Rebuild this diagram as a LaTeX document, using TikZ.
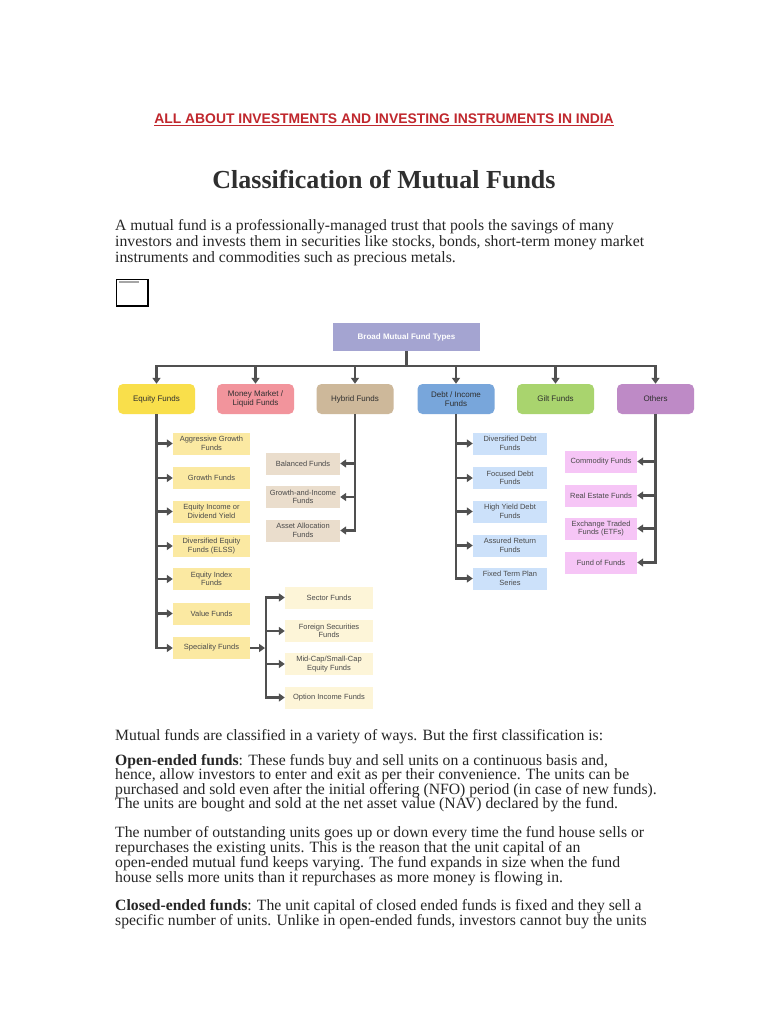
\documentclass[tikz,border=0pt]{standalone}
\usepackage{fontspec}
\setmainfont{Liberation Serif}
\setsansfont{Liberation Sans}
\usetikzlibrary{arrows.meta}
\definecolor{hdr}{HTML}{C0272D}
\definecolor{ttl}{HTML}{2F2F2F}
\definecolor{bodyc}{HTML}{262626}
\definecolor{lnc}{HTML}{505050}
\definecolor{topc}{HTML}{A4A4D1}
\definecolor{eqC}{HTML}{F9DF4B}
\definecolor{mmC}{HTML}{F2949C}
\definecolor{hyC}{HTML}{CDB89A}
\definecolor{deC}{HTML}{78A6DB}
\definecolor{giC}{HTML}{A9D46E}
\definecolor{otC}{HTML}{BE8AC6}
\definecolor{eqS}{HTML}{FBE9A2}
\definecolor{hyS}{HTML}{EADDCC}
\definecolor{spS}{HTML}{FDF5D8}
\definecolor{deS}{HTML}{CCE1FA}
\definecolor{otS}{HTML}{F6C5F6}
\definecolor{boxtxt}{HTML}{4A4A4A}
\tikzset{
  body/.style={anchor=base west, inner sep=0pt, text=bodyc, font=\fontsize{15.7}{17}\selectfont},
  cat/.style={rounded corners=5pt, minimum width=77pt, minimum height=30pt, inner sep=1pt,
    align=center, text=ttl, font=\sffamily\fontsize{8}{9.5}\selectfont},
  subbox/.style={minimum height=22pt, inner sep=1pt, align=center, text=boxtxt,
    font=\sffamily\fontsize{7.5}{8.5}\selectfont},
  plain/.style={draw=lnc, line width=2.6pt},
  conn/.style={draw=lnc, line width=2.6pt, -{Triangle[length=6pt,width=8pt]}},
}
\begin{document}
\begin{tikzpicture}[x=1pt,y=-1pt]
\useasboundingbox[fill=white] (0,0) rectangle (768,1024);

% header
\node[text=hdr, font=\sffamily\bfseries\fontsize{13.9}{15}\selectfont, inner sep=0pt] (hd) at (384,119) {ALL ABOUT INVESTMENTS AND INVESTING INSTRUMENTS IN INDIA};
\draw[hdr, line width=1.1pt] ([yshift=-1.8pt]hd.south west) -- ([yshift=-1.8pt]hd.south east);

% title
\node[text=ttl, font=\bfseries\fontsize{26}{30}\selectfont, inner sep=0pt] (title) at (384,180) {Classification of Mutual Funds};

% intro
\node[body] (i1) at (115,231) {A mutual fund is a professionally-managed trust that pools the savings of many};
\node[body] (i2) at (115,246.5) {investors and invests them in securities like stocks, bonds, short-term money market};
\node[body] (i3) at (115,262) {instruments and commodities such as precious metals.};

% placeholder image
\draw[black, line width=0.8pt] (116,279) rectangle (148,306);
\draw[black, line width=1.6pt] (116.5,306) -- (148,306) -- (148,279.5);
\draw[gray!70, line width=1.2pt] (119,282) -- (139,282);

% diagram
\node[fill=topc, minimum width=147pt, minimum height=28pt, inner sep=1pt, text=white,
  font=\sffamily\bfseries\fontsize{8}{9}\selectfont] (top) at (406.5,337) {Broad Mutual Fund Types};

\node[cat, fill=eqC] (eq) at (156.5,399) {Equity Funds};
\node[cat, fill=mmC] (mm) at (255.5,399) {Money Market /\\Liquid Funds};
\node[cat, fill=hyC] (hy) at (355,399) {Hybrid Funds};
\node[cat, fill=deC] (de) at (456,399) {Debt / Income\\Funds};
\node[cat, fill=giC] (gi) at (555.5,399) {Gilt Funds};
\node[cat, fill=otC] (ot) at (655.5,399) {Others};

\coordinate (bar) at (406.5,366);
\draw[plain] (top.south) -- (bar);
\draw[plain, line cap=rect] (bar -| eq.north) -- (bar -| ot.north);
\foreach \n in {eq,mm,hy,de,gi,ot}{
  \draw[conn] (bar -| \n.north) -- (\n.north);
}

% equity subs
\begin{scope}[every node/.style={subbox, fill=eqS, minimum width=77pt}]
\node (ag) at (211.5,443.5) {Aggressive Growth\\Funds};
\node (gr) at (211.5,478) {Growth Funds};
\node (ei) at (211.5,511.5) {Equity Income or\\Dividend Yield};
\node (dv) at (211.5,546) {Diversified Equity\\Funds (ELSS)};
\node (ix) at (211.5,579) {Equity Index\\Funds};
\node (va) at (211.5,613.5) {Value Funds};
\node (sp) at (211.5,648) {Speciality Funds};
\end{scope}
\foreach \n in {ag,gr,ei,dv,ix,va,sp}{
  \draw[conn] (eq.south) |- (\n.west);
}

% hybrid subs
\begin{scope}[every node/.style={subbox, fill=hyS, minimum width=74pt}]
\node (bal) at (303,463.5) {Balanced Funds};
\node (gai) at (303,497) {Growth-and-Income\\Funds};
\node (aa) at (303,530.5) {Asset Allocation\\Funds};
\end{scope}
\foreach \n in {bal,gai,aa}{
  \draw[conn] (hy.south) |- (\n.east);
}

% speciality subs
\begin{scope}[every node/.style={subbox, fill=spS, minimum width=88pt}]
\node (sec) at (329,597.5) {Sector Funds};
\node (fs) at (329,631) {Foreign Securities\\Funds};
\node (mc) at (329,664) {Mid-Cap/Small-Cap\\Equity Funds};
\node (oi) at (329,697.5) {Option Income Funds};
\end{scope}
\coordinate (spj) at (266,648);
\draw[conn] (sp.east) -- ([xshift=-1pt]spj);
\foreach \n in {sec,fs,mc,oi}{
  \draw[conn] (spj) |- (\n.west);
}

% debt subs
\begin{scope}[every node/.style={subbox, fill=deS, minimum width=74pt}]
\node (dd) at (510,443.5) {Diversified Debt\\Funds};
\node (fd) at (510,478) {Focused Debt\\Funds};
\node (hyd) at (510,511.5) {High Yield Debt\\Funds};
\node (ar) at (510,545.5) {Assured Return\\Funds};
\node (ftp) at (510,578.5) {Fixed Term Plan\\Series};
\end{scope}
\foreach \n in {dd,fd,hyd,ar,ftp}{
  \draw[conn] (de.south) |- (\n.west);
}

% others subs
\begin{scope}[every node/.style={subbox, fill=otS, minimum width=72pt}]
\node (co) at (601,461.5) {Commodity Funds};
\node (re) at (601,495.5) {Real Estate Funds};
\node (etf) at (601,528.5) {Exchange Traded\\Funds (ETFs)};
\node (fof) at (601,562.5) {Fund of Funds};
\end{scope}
\foreach \n in {co,re,etf,fof}{
  \draw[conn] (ot.south) |- (\n.east);
}

% body text
\node[body] (p1) at (115,740) {Mutual funds are classified in a variety of ways. But the first classification is:};
\node[body] (p2) at (115,765) {\textbf{Open-ended funds}: These funds buy and sell units on a continuous basis and,};
\node[body] (p3) at (115,779) {hence, allow investors to enter and exit as per their convenience. The units can be};
\node[body] (p4) at (115,794) {purchased and sold even after the initial offering (NFO) period (in case of new funds).};
\node[body] (p5) at (115,808) {The units are bought and sold at the net asset value (NAV) declared by the fund.};
\node[body] (p6) at (115,837) {The number of outstanding units goes up or down every time the fund house sells or};
\node[body] (p7) at (115,852) {repurchases the existing units. This is the reason that the unit capital of an};
\node[body] (p8) at (115,867) {open-ended mutual fund keeps varying. The fund expands in size when the fund};
\node[body] (p9) at (115,882) {house sells more units than it repurchases as more money is flowing in.};
\node[body] (p10) at (115,910) {\textbf{Closed-ended funds}: The unit capital of closed ended funds is fixed and they sell a};
\node[body] (p11) at (115,925) {specific number of units. Unlike in open-ended funds, investors cannot buy the units};
\end{tikzpicture}
\end{document}
